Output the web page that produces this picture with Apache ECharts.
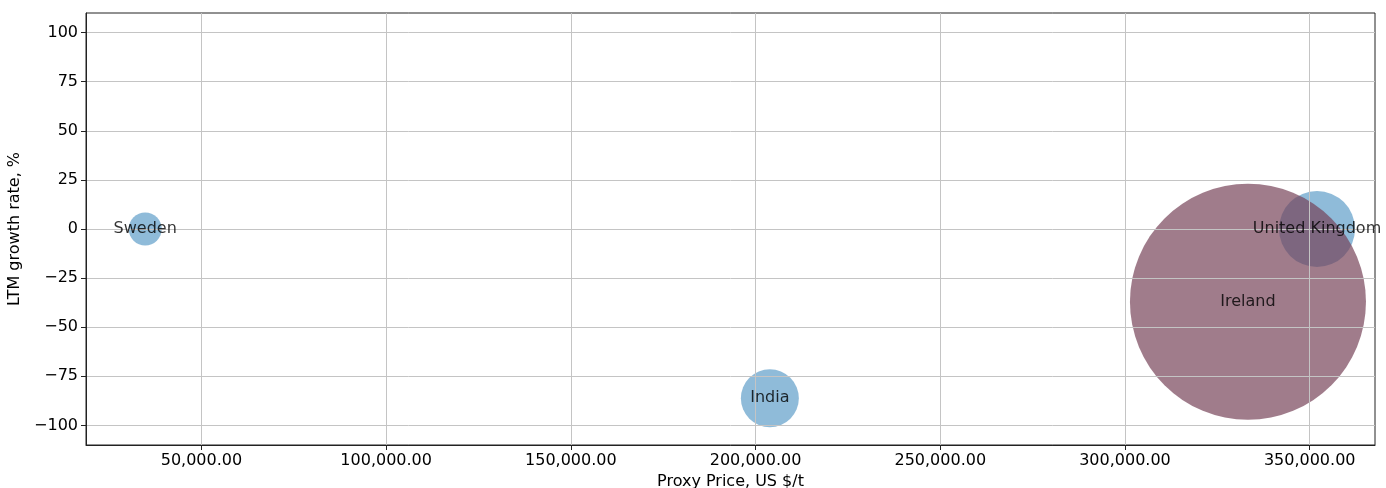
<!DOCTYPE html>
<html>
<head>
<meta charset="utf-8">
<script src="https://cdn.jsdelivr.net/npm/echarts@6/dist/echarts.min.js"></script>
<style>
  html, body { margin: 0; padding: 0; background: #fff; }
  #main { width: 1386px; height: 488px; }
</style>
</head>
<body>
<div id="main"></div>
<script>
// data
const countries = ['Sweden', 'India', 'United Kingdom', 'Ireland'];
const proxyPrice = [34780, 203870, 351980, 333290];
const growthRate = [0, -86.2, 0, -37.1];
const bubbleArea = [1090, 3360, 5780, 55700];   // marker area, px^2
const xTicks = [50000, 100000, 150000, 200000, 250000, 300000, 350000];
const yTicks = [-100, -75, -50, -25, 0, 25, 50, 75, 100];

const blue = 'rgba(31,119,180,0.5)';
const maroon = 'rgba(117,65,87,0.69)';

const font = 'DejaVu Sans';

function fmtPrice(v) {
  return v.toLocaleString('en-US', { minimumFractionDigits: 2, maximumFractionDigits: 2 });
}
function fmtRate(v) {
  return v < 0 ? '\u2212' + Math.abs(v) : String(v);
}

const points = countries.map((c, i) => ({
  name: c,
  value: [proxyPrice[i], growthRate[i], bubbleArea[i]],
  itemStyle: { color: c === 'Ireland' ? maroon : blue, opacity: 1 }
}));

const chart = echarts.init(document.getElementById('main'), null, { renderer: 'canvas' });

// grid lines sit over the bubbles, the country names over everything
chart.setOption({
  animation: false,
  textStyle: { fontFamily: font },
  grid: {
    left: 86, right: 11, top: 13, bottom: 43,
    outerBoundsMode: 'none',
    containLabel: false,
    show: true, borderColor: '#222', borderWidth: 1, backgroundColor: 'transparent'
  },
  xAxis: {
    type: 'value',
    z: 5,
    min: 18750, max: 367680,
    name: 'Proxy Price, US $/t',
    nameLocation: 'middle',
    nameGap: 29,
    nameTextStyle: { fontFamily: font, fontSize: 16, color: '#000' },
    axisLine: { show: true, onZero: false, lineStyle: { color: '#222', width: 1 } },
    axisTick: { show: true, length: 5, lineStyle: { color: '#222' }, customValues: xTicks },
    axisLabel: { customValues: xTicks, formatter: fmtPrice, fontFamily: font, fontSize: 16, color: '#000', margin: 8 },
    splitLine: { show: true, lineStyle: { color: '#c4c4c4', width: 1 } }
  },
  yAxis: {
    type: 'value',
    z: 5,
    min: -110, max: 110,
    name: 'LTM growth rate, %',
    nameLocation: 'middle',
    nameGap: 59,
    nameTextStyle: { fontFamily: font, fontSize: 16, color: '#000' },
    axisLine: { show: true, onZero: false, lineStyle: { color: '#222', width: 1 } },
    axisTick: { show: true, length: 5, lineStyle: { color: '#222' }, customValues: yTicks },
    axisLabel: { customValues: yTicks, formatter: fmtRate, fontFamily: font, fontSize: 16, color: '#000', margin: 8 },
    splitLine: { show: true, lineStyle: { color: '#c4c4c4', width: 1 } }
  },
  series: [{
    type: 'scatter',
    z: 1,
    data: points,
    symbolSize: v => Math.sqrt(v[2]),
    emphasis: { disabled: true },
    silent: true
  }, {
    type: 'scatter',
    z: 10,
    data: points.map(p => ({ name: p.name, value: p.value })),
    symbolSize: 1,
    itemStyle: { color: 'rgba(0,0,0,0)' },
    label: {
      show: true,
      position: 'inside',
      formatter: p => p.name,
      fontFamily: font,
      fontSize: 16,
      color: '#000'
    },
    labelLayout: { hideOverlap: false },
    emphasis: { disabled: true },
    silent: true
  }]
});
</script>
</body>
</html>
